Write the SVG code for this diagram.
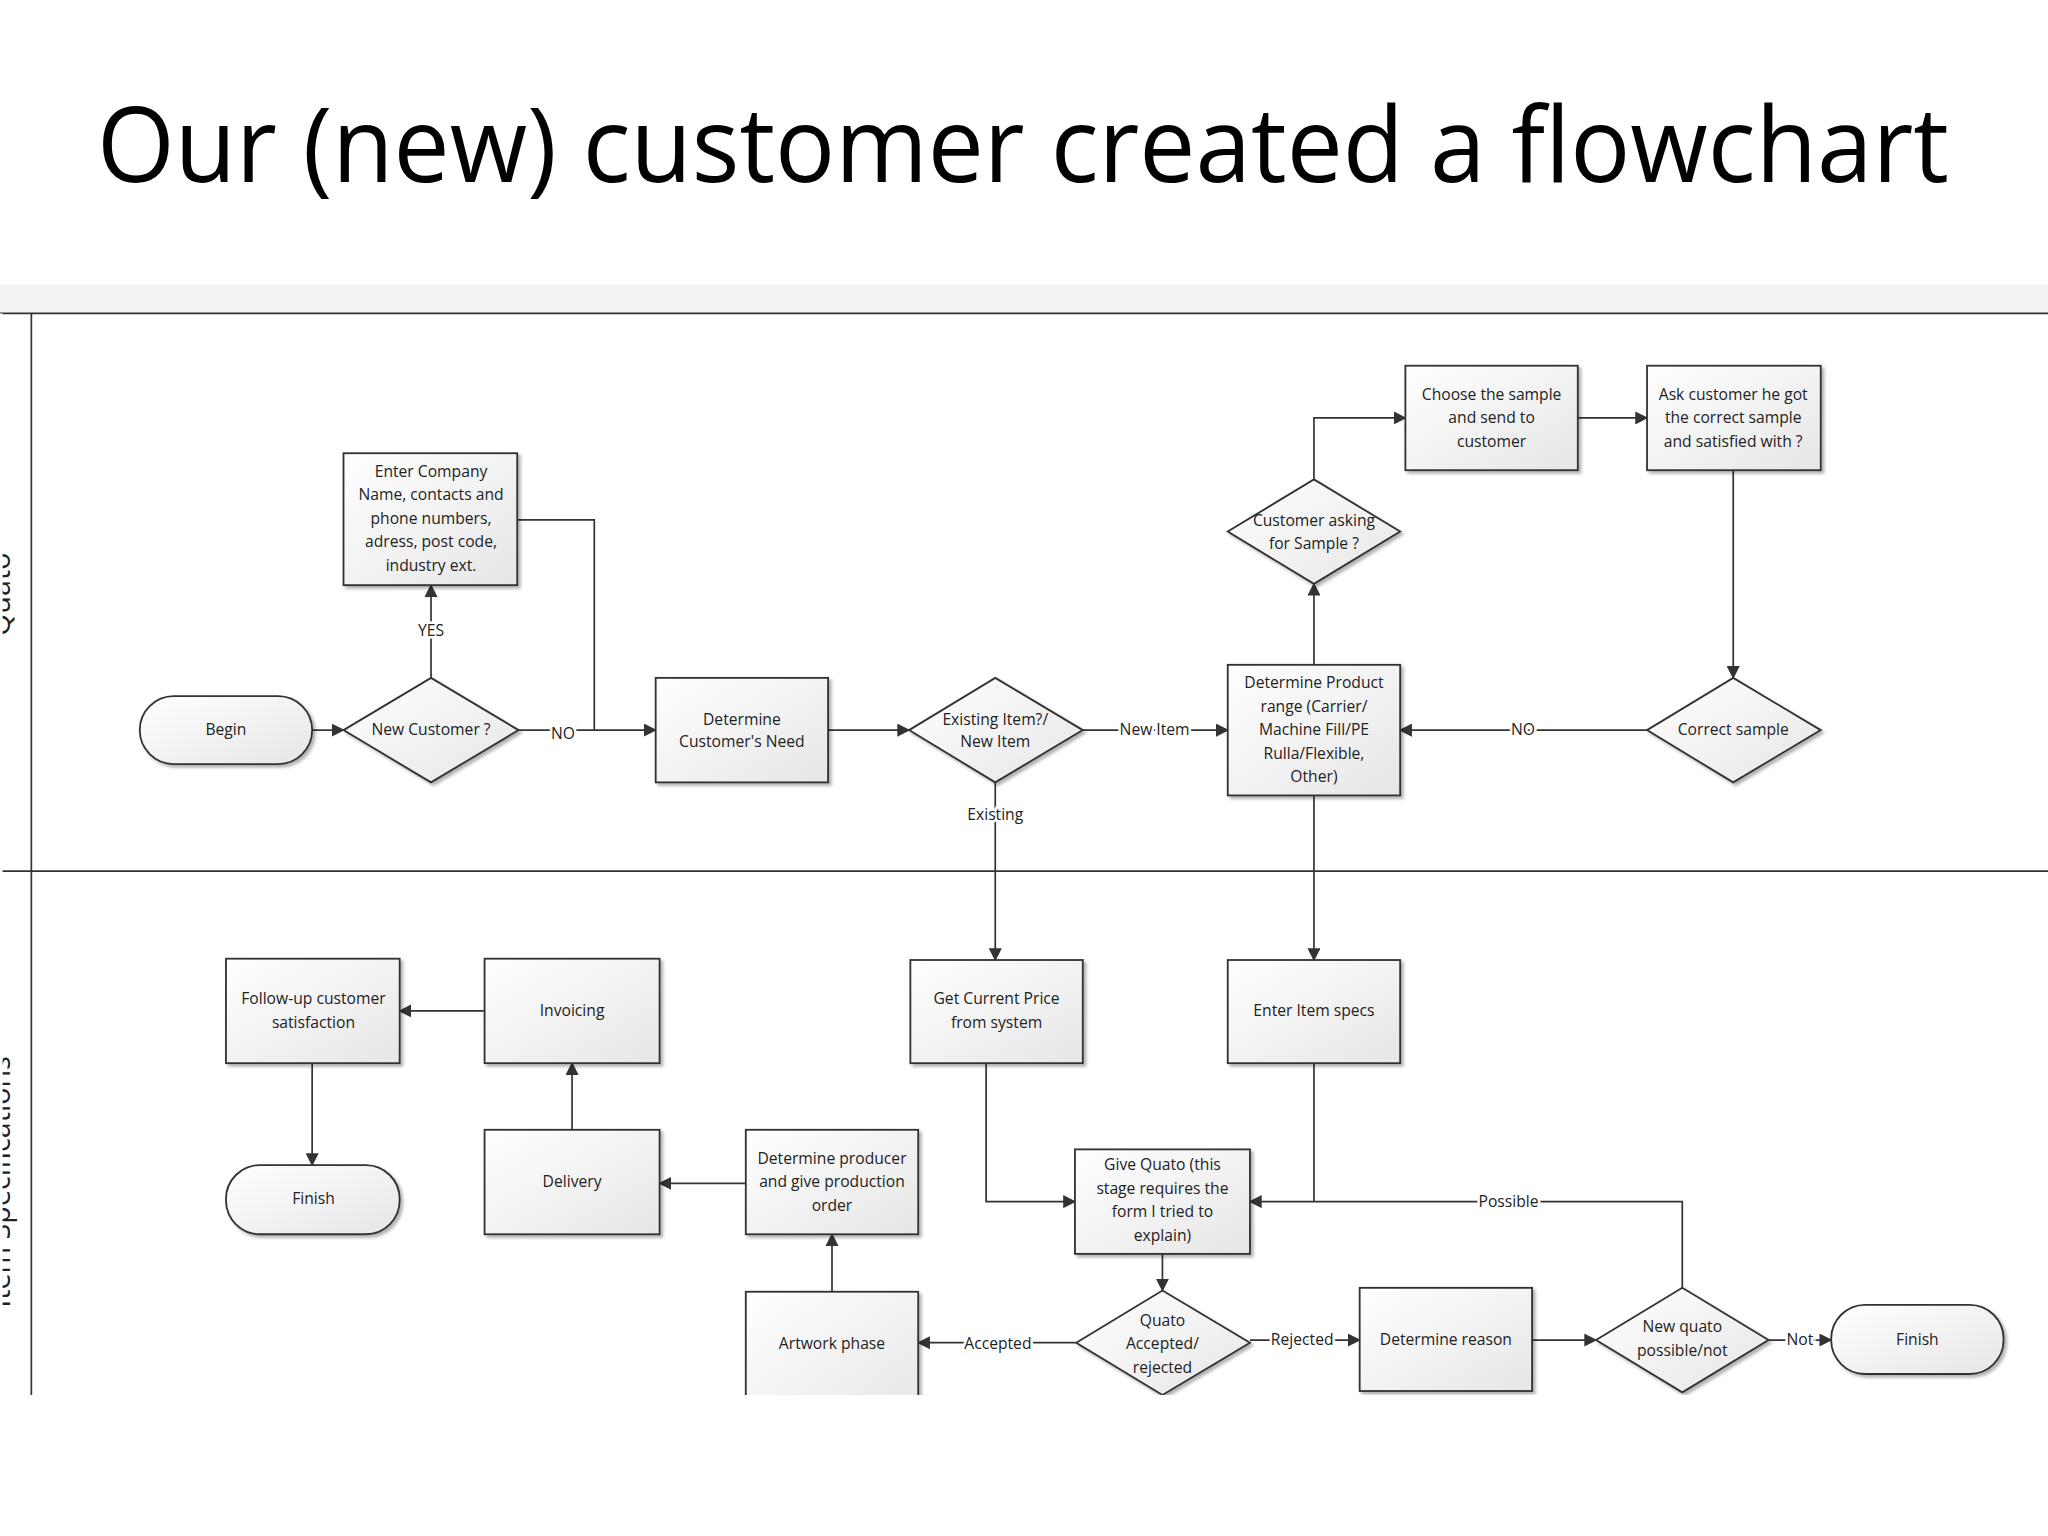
<svg xmlns="http://www.w3.org/2000/svg" width="2048" height="1536" viewBox="0 0 2048 1536">
<style>
.n{fill:url(#g);stroke:#333;stroke-width:1.4;filter:url(#sh)}
.t{font-family:"Open Sans","Liberation Sans",sans-serif;font-size:12px;fill:#222;text-anchor:middle}
.l{font-family:"Open Sans","Liberation Sans",sans-serif;font-size:12px;fill:#222;text-anchor:middle;stroke:#fff;stroke-width:4;paint-order:stroke}
.c{fill:none;stroke:#333;stroke-width:1.3;marker-end:url(#a)}
.ln{stroke:#333;stroke-width:1.3;fill:none}
</style>
<defs>
<linearGradient id="g" x1="0" y1="0" x2="1" y2="1"><stop offset="0" stop-color="#fff"/><stop offset="1" stop-color="#e6e6e6"/></linearGradient>
<filter id="sh" x="-10%" y="-10%" width="130%" height="130%"><feDropShadow dx="2" dy="2" stdDeviation="1.2" flood-color="#000" flood-opacity="0.3"/></filter>
<marker id="a" markerWidth="10" markerHeight="10" refX="9" refY="5" orient="auto" markerUnits="userSpaceOnUse"><path d="M0,0 L10,5 L0,10 z" fill="#333"/></marker>
</defs>
<rect width="2048" height="1536" fill="#fff"/>
<text x="97" y="182" font-family="'Open Sans','Liberation Sans',sans-serif" font-size="104" fill="#000" textLength="1852" lengthAdjust="spacingAndGlyphs">Our (new) customer created a flowchart</text>
<g transform="scale(1.30612)">
<rect x="0" y="218" width="1568" height="22" fill="#f3f3f3"/>
<g id="lanes" class="ln">
<line x1="0" y1="240" x2="1568" y2="240"/>
<line x1="0" y1="667" x2="1568" y2="667"/>
<line x1="24" y1="240" x2="24" y2="1068"/>
</g>
<text transform="translate(8,455) rotate(-90)" font-family="'Open Sans',sans-serif" font-size="22" text-anchor="middle" fill="#222">Quato</text>
<text transform="translate(8,905) rotate(-90)" font-family="'Open Sans',sans-serif" font-size="22" text-anchor="middle" fill="#222">Item Specifications</text>
<rect x="0" y="240" width="2" height="828" fill="#fff"/>

<g id="connectors">
<path class="c" d="M239,559 H263"/>
<path class="c" d="M330,519 V448"/>
<path class="c" d="M396,559 H502"/>
<path class="ln" d="M396,398 H455 V559"/>
<path class="c" d="M634,559 H696"/>
<path class="c" d="M829,559 H940"/>
<path class="c" d="M762,599 V735"/>
<path class="c" d="M1006,509 V447"/>
<path class="c" d="M1006,367 V320 H1076"/>
<path class="c" d="M1208,320 H1261"/>
<path class="c" d="M1327,360 V519"/>
<path class="c" d="M1261,559 H1072"/>
<path class="c" d="M1006,609 V735"/>
<path class="c" d="M755,814 V920 H823"/>
<path class="ln" d="M1006,814 V920"/>
<path class="c" d="M1288,986 V920 H957"/>
<path class="c" d="M890,960 V988"/>
<path class="c" d="M824,1028 H703"/>
<path class="c" d="M957,1026 H1041"/>
<path class="c" d="M1173,1026 H1222"/>
<path class="c" d="M1354,1026 H1402"/>
<path class="c" d="M637,989 V945"/>
<path class="c" d="M571,906 H505"/>
<path class="c" d="M438,865 V814"/>
<path class="c" d="M371,774 H306"/>
<path class="c" d="M239,814 V892"/>
<text class="l" x="330" y="487">YES</text>
<text class="l" x="431" y="566">NO</text>
<text class="l" x="884" y="563">New Item</text>
<text class="l" x="762" y="628">Existing</text>
<text class="l" x="1166" y="563">NO</text>
<text class="l" x="1155" y="924">Possible</text>
<text class="l" x="764" y="1033">Accepted</text>
<text class="l" x="997" y="1030">Rejected</text>
<text class="l" x="1378" y="1030">Not</text>
</g>

<g id="begin"><rect class="n" x="107" y="533" width="132" height="52" rx="26"/><text class="t" x="173" y="563">Begin</text></g>
<g id="newcust"><polygon class="n" points="263,559 330,519 397,559 330,599"/><text class="t" x="330" y="563">New Customer ?</text></g>
<g id="company"><rect class="n" x="263" y="347" width="133" height="101"/><text class="t" x="330" y="365">Enter Company</text><text class="t" x="330" y="383">Name, contacts and</text><text class="t" x="330" y="401">phone numbers,</text><text class="t" x="330" y="419">adress, post code,</text><text class="t" x="330" y="437">industry ext.</text></g>
<g id="need"><rect class="n" x="502" y="519" width="132" height="80"/><text class="t" x="568" y="555">Determine</text><text class="t" x="568" y="572">Customer's Need</text></g>
<g id="existing"><polygon class="n" points="696,559 762,519 829,559 762,599"/><text class="t" x="762" y="555">Existing Item?/</text><text class="t" x="762" y="572">New Item</text></g>
<g id="product"><rect class="n" x="940" y="509" width="132" height="100"/><text class="t" x="1006" y="527">Determine Product</text><text class="t" x="1006" y="545">range (Carrier/</text><text class="t" x="1006" y="563">Machine Fill/PE</text><text class="t" x="1006" y="581">Rulla/Flexible,</text><text class="t" x="1006" y="599">Other)</text></g>
<g id="asking"><polygon class="n" points="940,407 1006,367 1072,407 1006,447"/><text class="t" x="1006" y="403">Customer asking</text><text class="t" x="1006" y="420">for Sample ?</text></g>
<g id="choose"><rect class="n" x="1076" y="280" width="132" height="80"/><text class="t" x="1142" y="306">Choose the sample</text><text class="t" x="1142" y="324">and send to</text><text class="t" x="1142" y="342">customer</text></g>
<g id="ask"><rect class="n" x="1261" y="280" width="133" height="80"/><text class="t" x="1327" y="306">Ask customer he got</text><text class="t" x="1327" y="324">the correct sample</text><text class="t" x="1327" y="342">and satisfied with ?</text></g>
<g id="correct"><polygon class="n" points="1261,559 1327,519 1394,559 1327,599"/><text class="t" x="1327" y="563">Correct sample</text></g>
<g id="price"><rect class="n" x="697" y="735" width="132" height="79"/><text class="t" x="763" y="769">Get Current Price</text><text class="t" x="763" y="787">from system</text></g>
<g id="specs"><rect class="n" x="940" y="735" width="132" height="79"/><text class="t" x="1006" y="778">Enter Item specs</text></g>
<g id="followup"><rect class="n" x="173" y="734" width="133" height="80"/><text class="t" x="240" y="769">Follow-up customer</text><text class="t" x="240" y="787">satisfaction</text></g>
<g id="invoicing"><rect class="n" x="371" y="734" width="134" height="80"/><text class="t" x="438" y="778">Invoicing</text></g>
<g id="finish1"><rect class="n" x="173" y="892" width="133" height="53" rx="26"/><text class="t" x="240" y="922">Finish</text></g>
<g id="delivery"><rect class="n" x="371" y="865" width="134" height="80"/><text class="t" x="438" y="909">Delivery</text></g>
<g id="producer"><rect class="n" x="571" y="865" width="132" height="80"/><text class="t" x="637" y="891">Determine producer</text><text class="t" x="637" y="909">and give production</text><text class="t" x="637" y="927">order</text></g>
<g id="givequato"><rect class="n" x="823" y="880" width="134" height="80"/><text class="t" x="890" y="896">Give Quato (this</text><text class="t" x="890" y="914">stage requires the</text><text class="t" x="890" y="932">form I tried to</text><text class="t" x="890" y="950">explain)</text></g>
<g id="artwork"><rect class="n" x="571" y="989" width="132" height="100"/><text class="t" x="637" y="1033">Artwork phase</text></g>
<g id="accepted"><polygon class="n" points="824,1028 890,988 957,1028 890,1068"/><text class="t" x="890" y="1015">Quato</text><text class="t" x="890" y="1033">Accepted/</text><text class="t" x="890" y="1051">rejected</text></g>
<g id="reason"><rect class="n" x="1041" y="986" width="132" height="79"/><text class="t" x="1107" y="1030">Determine reason</text></g>
<g id="newquato"><polygon class="n" points="1222,1026 1288,986 1354,1026 1288,1066"/><text class="t" x="1288" y="1020">New quato</text><text class="t" x="1288" y="1038">possible/not</text></g>
<g id="finish2"><rect class="n" x="1402" y="999" width="132" height="53" rx="26"/><text class="t" x="1468" y="1030">Finish</text></g>
<rect x="0" y="1068" width="1568" height="120" fill="#fff"/>
</g>
</svg>
